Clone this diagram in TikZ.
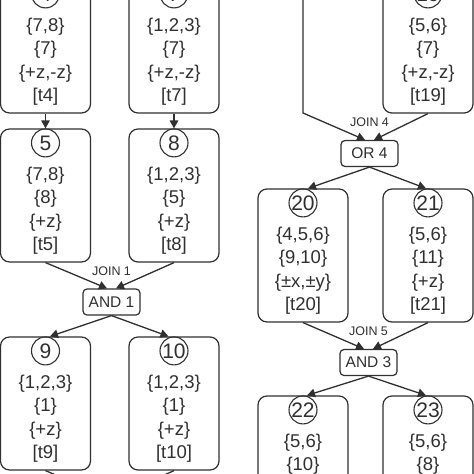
\documentclass[tikz,border=0pt]{standalone}
\usepackage{fontspec}
\setmainfont{Liberation Sans}
\usetikzlibrary{arrows.meta,positioning,calc}
\definecolor{ink}{HTML}{303030}
\def\BoxW{90pt}
\def\BoxH{133pt}

\begin{document}
\begin{tikzpicture}[x=1pt,y=-1pt,
	cell/.style={draw=ink,line width=1.2pt,rounded corners=9pt,minimum width=\BoxW,minimum height=\BoxH,inner sep=0pt},
	num/.style={draw=ink,circle,line width=1.1pt,minimum size=28pt,inner sep=0pt,text=ink,font=\fontsize{21}{21}\selectfont},
	info/.style={align=center,text=ink,inner sep=0pt,anchor=north,font=\fontsize{18.5}{23.5}\selectfont},
	gate/.style={draw=ink,line width=1.2pt,rounded corners=4pt,minimum width=57pt,minimum height=26pt,inner sep=0pt,text=ink,font=\fontsize{15.5}{15.5}\selectfont},
	joinlbl/.style={text=ink,inner sep=0pt,font=\fontsize{12.5}{12.5}\selectfont},
	flow/.style={draw=ink,line width=1.3pt,-{Triangle[length=8pt,width=8.5pt]}},
	]
	\clip (0,0) rectangle (474,474);
	\fill[white] (0,0) rectangle (474,474);
	% task boxes
	\foreach \n/\x/\y/\txt in {
		4/45.5/46.5/{\{7,8\}\\\{7\}\\\{+z,-z\}\\{}[t4]},
		7/174/46.5/{\{1,2,3\}\\\{7\}\\\{+z,-z\}\\{}[t7]},
		19/428/46.5/{\{5,6\}\\\{7\}\\\{+z,-z\}\\{}[t19]},
		5/45.5/195.5/{\{7,8\}\\\{8\}\\\{+z\}\\{}[t5]},
		8/174/195.5/{\{1,2,3\}\\\{5\}\\\{+z\}\\{}[t8]},
		9/45.5/403.5/{\{1,2,3\}\\\{1\}\\\{+z\}\\{}[t9]},
		10/174/403.5/{\{1,2,3\}\\\{1\}\\\{+z\}\\{}[t10]},
		20/303/255.5/{\{4,5,6\}\\\{9,10\}\\\{±x,±y\}\\{}[t20]},
		21/428/255.5/{\{5,6\}\\\{11\}\\\{+z\}\\{}[t21]},
		22/303/462.5/{\{5,6\}\\\{10\}},
		23/428/462.5/{\{5,6\}\\\{8\}}}{
		\node[cell] (b\n) at (\x,\y) {};
		\node[num] (n\n) at ($(b\n.north)+(0,14.5)$) {\n};
		\node[info] (t\n) at ($(b\n.north)+(0,38)$) {\txt};
	}
	% gates
	\node[gate] (and1) at (111.5,302) {AND 1};
	\node[gate] (or4) at (369.5,153.5) {OR 4};
	\node[gate] (and3) at (368.5,362.5) {AND 3};
	\node[joinlbl,above=13pt of and1] (j1) {JOIN 1};
	\node[joinlbl,above=13pt of or4] (j4) {JOIN 4};
	\node[joinlbl,above=13pt of and3] (j5) {JOIN 5};
	% ends that leave the picture
	\coordinate (up4) at (303,-40);
	\coordinate (bend4) at (303,113);
	\coordinate (and2) at (111.5,497);
	%
	\draw[flow] (b4) -- (b5);
	\draw[flow] (b7) -- (b8);
	\draw[flow] (b5.south) -- ([xshift=-4.5pt]and1.north);
	\draw[flow] (b8.south) -- ([xshift=4.5pt]and1.north);
	\draw[flow] (and1.south) -- ([xshift=4.5pt]b9.north);
	\draw[flow] (and1.south) -- ([xshift=-5.5pt]b10.north);
	\draw[ink,line width=1.3pt] (b9.south) -- ([xshift=-4.5pt]and2);
	\draw[ink,line width=1.3pt] (b10.south) -- ([xshift=4.5pt]and2);
	\draw[flow] (up4) -- (bend4) -- ([xshift=-4.5pt]or4.north);
	\draw[flow] (b19.south) -- ([xshift=4.5pt]or4.north);
	\draw[flow] (or4.south) -- ([xshift=5pt]b20.north);
	\draw[flow] (or4.south) -- ([xshift=-2pt]b21.north);
	\draw[flow] (b20.south) -- ([xshift=-4.5pt]and3.north);
	\draw[flow] (b21.south) -- ([xshift=4.5pt]and3.north);
	\draw[flow] (and3.south) -- ([xshift=4pt]b22.north);
	\draw[flow] (and3.south) -- ([xshift=-2pt]b23.north);
\end{tikzpicture}
\end{document}
